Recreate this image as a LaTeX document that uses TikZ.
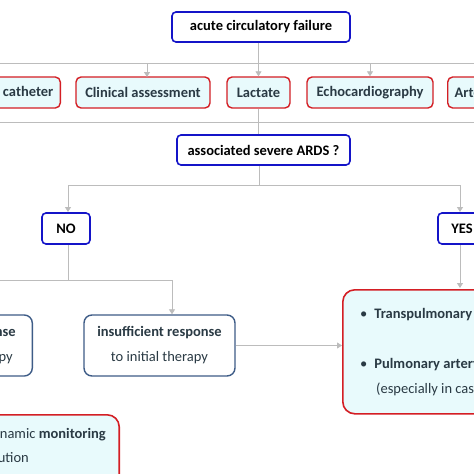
\documentclass[tikz,border=0pt]{standalone}
\usepackage{fontspec}
\setmainfont{Carlito}
\usetikzlibrary{arrows.meta,positioning}

\definecolor{qblue}{RGB}{20,20,200}
\definecolor{mred}{RGB}{212,30,36}
\definecolor{mfill}{RGB}{232,250,252}
\definecolor{lgray}{RGB}{188,188,188}
\definecolor{tdark}{RGB}{42,58,68}
\definecolor{rslate}{RGB}{62,92,135}

\tikzset{
	question/.style = {draw=qblue, line width=1.6pt, rounded corners=4pt, fill=white,
		font=\fontsize{14.5}{17}\selectfont\bfseries, text=black, minimum height=30pt, inner sep=0pt},
	method/.style = {draw=mred, line width=1.4pt, rounded corners=5pt, fill=mfill,
		font=\fontsize{14.5}{17}\selectfont\bfseries, text=tdark, minimum height=31pt, inner xsep=7pt},
	reply/.style = {draw=rslate, line width=1.4pt, rounded corners=8pt, fill=white,
		font=\fontsize{14.5}{25}\selectfont, text=tdark, align=center, minimum height=61pt, inner sep=0pt},
	bigbox/.style = {draw=mred, line width=1.6pt, rounded corners=12pt, fill=mfill},
	txt/.style = {font=\fontsize{14.5}{25}\selectfont, text=tdark, inner sep=0pt},
	link/.style = {draw=lgray, line width=0.8pt, -{Triangle[length=5pt,width=6pt]}},
	wire/.style = {draw=lgray, line width=0.8pt}
}

\begin{document}
\begin{tikzpicture}[x=1pt, y=-1pt]
	\useasboundingbox (0,0) rectangle (474,474);
	\fill[white] (0,0) rectangle (474,474);
	\clip (0,0) rectangle (474,474);

	% top question
	\node[question, minimum width=178pt] (acute) at (261,27) {acute circulatory failure};

	% monitoring tools
	\node[method, anchor=east] (pac) at (61,92.5) {Pulmonary artery catheter};
	\node[method, minimum width=134pt, inner xsep=0pt] (clin) at (143,92.5) {Clinical assessment};
	\node[method, minimum width=63pt, inner xsep=0pt] (lact) at (258.5,92.5) {Lactate};
	\node[method, minimum width=126pt, inner xsep=0pt] (echo) at (370,92.5) {Echocardiography};
	\node[method, anchor=west] (art) at (447,92.5) {Arterial catheter};

	\coordinate (busA) at (0,63);
	\draw[wire] (busA) -- (474,63);
	\draw[link] (acute.south -| lact.north) -- (lact.north);
	\draw[link] (busA -| 147,0) -- (147,77);
	\draw[link] (busA -| echo.north) -- (echo.north);

	% ARDS question
	\node[question, minimum width=173pt] (ards) at (263.5,150) {associated severe ARDS ?};

	\coordinate (busB) at (0,122);
	\draw[wire] (busB) -- (474,122);
	\draw[wire] (lact.south) -- (lact.south |- ards.north);

	\node[question, minimum width=48pt, minimum height=31pt] (no) at (66,228.5) {NO};
	\node[question, minimum width=48pt, minimum height=31pt] (yes) at (462,228.5) {YES};

	\coordinate (split) at (259,185);
	\draw[wire] (ards.south -| split) -- (split);
	\draw[link] (split) -| (68,212);
	\draw[link] (split) -| (460,212);

	% answers
	\node[reply, anchor=east, minimum width=136pt] (ok) at (33,345.5) {\textbf{prompt response}\\to initial therapy};
	\node[reply, minimum width=151pt] (insuff) at (159.5,345.5) {\textbf{insufficient response}\\to initial therapy};

	\coordinate (busC) at (172,280);
	\draw[wire] (no.south -| 68,0) |- (0,280);
	\draw[wire] (68,280) -- (busC);
	\draw[link] (busC) -- (busC |- insuff.north);

	% invasive monitoring
	\node[bigbox, anchor=north west, minimum width=236pt, minimum height=124pt] (inv) at (342,289) {};
	\draw[link] (yes.south -| 460,0) -- (460,288);
	\draw[link] (insuff.east) -- (insuff.east -| inv.west);

	\node[txt, anchor=base west] (inv1) at (360,318) {\textbullet\hspace{7pt}\textbf{Transpulmonary thermodilution}};
	\node[txt, anchor=base west] (inv2) at (360,368) {\textbullet\hspace{7pt}\textbf{Pulmonary artery catheter}};
	\node[txt, anchor=base west] (inv3) at (376,393) {(especially in case of right ventricular failure)};

	% less invasive monitoring
	\node[bigbox, anchor=north east, minimum width=300pt, minimum height=90pt] (less) at (120,414) {};
	\node[txt, anchor=base east] (less1) at (106,438) {Less invasive hemodynamic \textbf{monitoring}};
	\node[txt, anchor=base east] (less2) at (29,462) {to assess the evolution};
\end{tikzpicture}
\end{document}
